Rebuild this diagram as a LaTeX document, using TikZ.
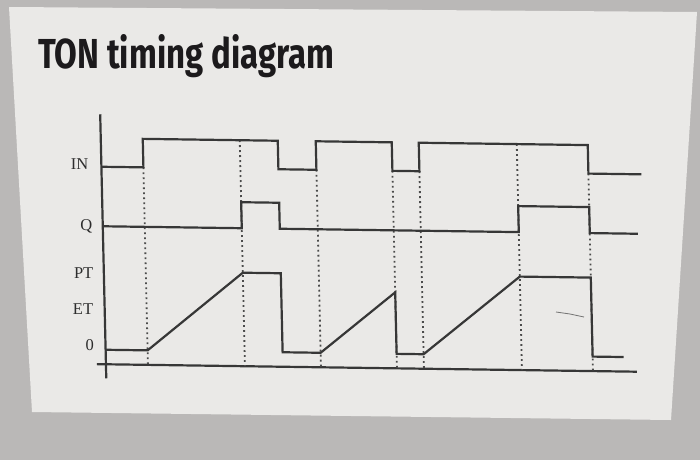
\documentclass[tikz,border=0pt]{standalone}
\usepackage{fontspec}
\setmainfont{Liberation Serif}
\newfontfamily\titlefont{Fira Sans}
\definecolor{outerbg}{RGB}{186,184,183}
\definecolor{cardbg}{RGB}{234,233,231}
\definecolor{ink}{RGB}{55,55,55}
\definecolor{textink}{RGB}{45,45,45}
\definecolor{titleink}{RGB}{28,26,28}
\begin{document}
\begin{tikzpicture}[x=1pt,y=-1pt,
  sig/.style={draw=ink,line width=2.2pt,line join=miter},
  guide/.style={draw=ink!90,line width=1.8pt,dash pattern=on 1.8pt off 3.2pt},
  axisline/.style={draw=ink,line width=2.2pt},
  lbl/.style={anchor=base east,inner sep=0pt,text=textink,font=\fontsize{16.5}{16.5}\selectfont}]
\useasboundingbox (0,0) rectangle (700,460);
\fill[outerbg] (0,0) rectangle (700,460);
\fill[cardbg] (9,7) -- (697,12) -- (671,420) -- (32,412) -- cycle;
\node[anchor=base west,inner sep=0pt,text=titleink] (title) at (38,68)
  {\resizebox{296pt}{34pt}{\titlefont\bfseries TON timing diagram}};
\draw[ink!70,line width=0.8pt] (556,312) -- (570,314) -- (584,317);
\begin{scope}[cm={1,-0.014,-0.023,1,(-5.52pt,5.18pt)}]
  % axes
  \draw[axisline] (103,118) -- (103,382);
  \draw[axisline] (94,368) -- (634,368);
  % dotted guides
  \foreach \x/\y in {145/170.5, 242/142, 318/170.5, 394/170.5, 421/170.5, 519/142, 590/170.5}
    \draw[guide] (\x,\y) -- (\x,368);
  % IN
  \draw[sig] (103,170.5) -- (145,170.5) -- (145,142) -- (280,142) -- (280,170.5)
    -- (318,170.5) -- (318,142) -- (394,142) -- (394,170.5) -- (421,170.5)
    -- (421,142) -- (590,142) -- (590,170.5) -- (643,170.5);
  % Q
  \draw[sig] (103,230) -- (242,230) -- (242,204) -- (280,204) -- (280,230)
    -- (519,230) -- (519,204) -- (590,204) -- (590,230) -- (638,230);
  % ET
  \draw[sig] (103,353.5) -- (145,353.5) -- (242,274.5) -- (280,274.5) -- (280,353.5)
    -- (318,353.5) -- (394,292) -- (394,353.5) -- (421,353.5) -- (519,274.5)
    -- (590,274.5) -- (590,353.5) -- (621,353.5);
  % labels
  \node[lbl] (lIN) at (90,173) {IN};
  \node[lbl] (lQ)  at (92.5,234.5) {Q};
  \node[lbl] (lPT) at (92.5,282) {PT};
  \node[lbl] (lET) at (91.5,318.5) {ET};
  \node[lbl] (l0)  at (91.5,354.5) {0};
\end{scope}
\end{tikzpicture}
\end{document}
